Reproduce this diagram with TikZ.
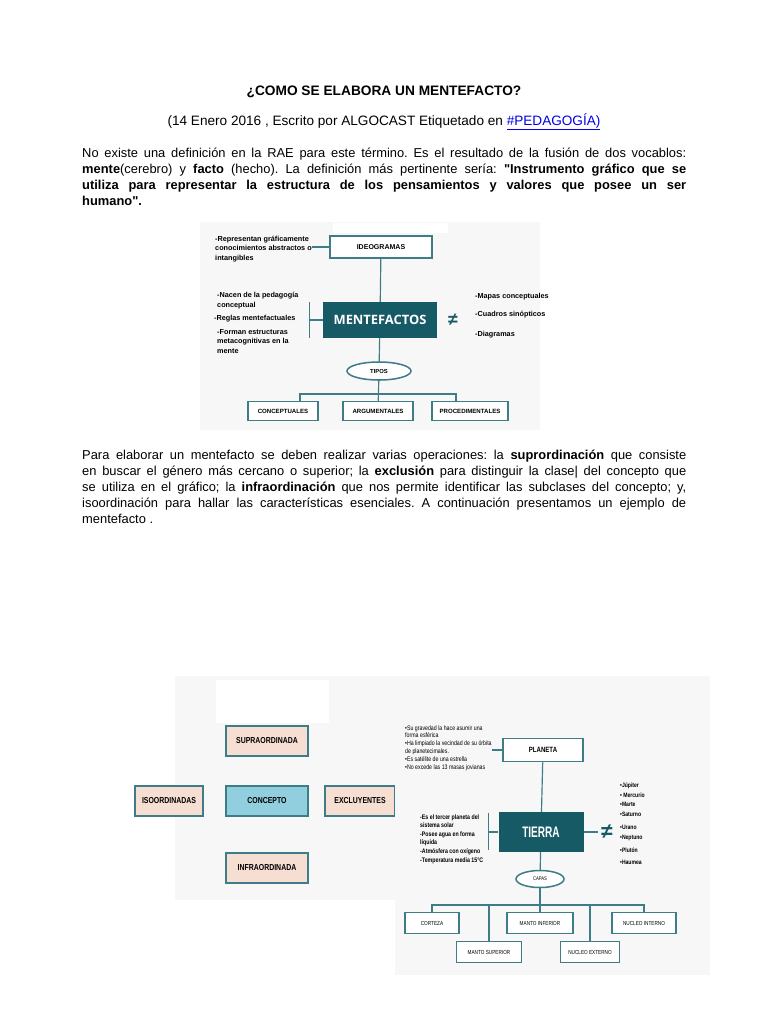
\documentclass[tikz,border=0pt]{standalone}
\usepackage{fontspec}
\setmainfont{Liberation Sans}
\newfontfamily\narrowfont[FakeStretch=0.8]{Liberation Sans}
\newfontfamily\tallfont[FakeStretch=0.66]{Liberation Sans}
\newfontfamily\headfont{Open Sans}
\usetikzlibrary{calc,shapes.geometric}

\definecolor{tealdark}{RGB}{22,90,102}
\definecolor{tealline}{RGB}{62,124,136}
\definecolor{peach}{RGB}{247,222,210}
\definecolor{skyfill}{RGB}{146,207,222}
\definecolor{linkblue}{RGB}{0,0,230}
\definecolor{panelgray}{RGB}{247,247,247}

\tikzset{
  every node/.style={inner sep=0pt},
  ideabox/.style={draw=tealline, line width=1.3pt, fill=white, font=\fontsize{5.2}{6}\selectfont\bfseries},
  mainbox/.style={fill=tealdark, text=white},
  typeoval/.style={ellipse, draw=tealline, line width=1.3pt, fill=white},
  conbox/.style={draw=tealline, line width=1pt, font=\narrowfont\fontsize{7.4}{8}\selectfont\bfseries},
  layerbox/.style={draw=tealline, line width=1.3pt, fill=white, font=\narrowfont\fontsize{5}{6}\selectfont},
  note/.style={align=left, anchor=base west, font=\fontsize{6.2}{7.7}\selectfont\bfseries},
  smallnote/.style={align=left, anchor=base west, font=\narrowfont\fontsize{5.6}{6.65}\selectfont},
  planet/.style={anchor=base west, font=\narrowfont\fontsize{5.4}{6}\selectfont\bfseries},
  notequal/.style={text=tealdark, font=\bfseries},
  link/.style={draw=tealline, line width=1pt},
  para/.style={anchor=base west, text width=18.12cm, align=justify, font=\fontsize{11}{13.66}\selectfont\frenchspacing},
}

\begin{document}
\begin{tikzpicture}[x=0.03cm, y=-0.03cm]
\useasboundingbox (0,0) rectangle (768,1024);
\fill[white] (0,0) rectangle (768,1024);

% heading and text
\node[anchor=base, font=\fontsize{11.7}{14}\selectfont\bfseries] (title) at (384,95) {¿COMO SE ELABORA UN MENTEFACTO?};
\node[anchor=base, font=\fontsize{11.6}{14}\selectfont] (date) at (384,125) {(14 Enero 2016 , Escrito por ALGOCAST Etiquetado en \textcolor{linkblue}{\underline{\#PEDAGOGÍA)}}};
\node[para] (intro) at (82,157) {No existe una definición en la RAE para este término. Es el resultado de la fusión de dos vocablos:\linebreak
\textbf{mente}(cerebro) y \textbf{facto} (hecho). La definición más pertinente sería: \textbf{\textquotedbl Instrumento gráfico que se\linebreak
utiliza para representar la estructura de los pensamientos y valores que posee un ser\linebreak
humano\textquotedbl.}};
\node[para] (steps) at (82,459) {Para elaborar un mentefacto se deben realizar varias operaciones: la \textbf{suprordinación} que consiste\linebreak
en buscar el género más cercano o superior; la \textbf{exclusión} para distinguir la clase| del concepto que\linebreak
se utiliza en el gráfico; la \textbf{infraordinación} que nos permite identificar las subclases del concepto; y,\linebreak
isoordinación para hallar las características esenciales. A continuación presentamos un ejemplo de\linebreak
mentefacto .};

% first mentefacto
\fill[panelgray] (200,222) rectangle (540,430);
\fill[white] (333,223) rectangle (448,233);
\node[ideabox, minimum width=3.06cm, minimum height=0.66cm, font=\fontsize{6}{7}\selectfont\bfseries] (ideo) at (381,247) {IDEOGRAMAS};
\node[mainbox, minimum width=3.42cm, minimum height=1.08cm, font=\headfont\fontsize{11}{12}\selectfont\bfseries] (mente) at (380,320) {MENTEFACTOS};
\node[typeoval, minimum width=1.92cm, minimum height=0.54cm, font=\fontsize{5}{6}\selectfont\bfseries] (tipos) at (379,371) {TIPOS};
\node[ideabox, minimum width=2.1cm, minimum height=0.57cm] (concep) at (283,411) {CONCEPTUALES};
\node[ideabox, minimum width=2.1cm, minimum height=0.57cm] (argum) at (378,411) {ARGUMENTALES};
\node[ideabox, minimum width=2.28cm, minimum height=0.57cm] (proced) at (470,411) {PROCEDIMENTALES};

\node[note] (repres) at (215,260) {-Representan gráficamente\\conocimientos abstractos o\\intangibles};
\node[note] (nacen) at (217,307) {-Nacen de la pedagogía\\conceptual};
\node[note] (reglas) at (214,320) {-Reglas mentefactuales};
\node[note] (forman) at (217,353) {-Forman estructuras\\metacognitivas en la\\mente};
\node[note] (mapas) at (475,298) {-Mapas conceptuales};
\node[note] (cuadros) at (475,316) {-Cuadros sinópticos};
\node[note] (diagr) at (475,336) {-Diagramas};
\node[notequal, font=\fontsize{15}{15}\selectfont\bfseries] (neqa) at (453,320) {≠};

\draw[link] (repres.east |- ideo.west) -- (ideo.west);
\draw[link] (ideo) -- (mente);
\coordinate (mbrace) at ($(mente.west)+(-13,0)$);
\draw[link] (mente.west) -- (mbrace);
\draw[link] ($(mbrace)+(0,-18)$) -- ($(mbrace)+(0,18)$);
\draw[link] (mente) -- (tipos);
\coordinate (tbar) at (379,394);
\draw[link] (tipos) -- (argum);
\draw[link] ($(concep.north)+(17,0)$) |- (tbar) -| ($(proced.north)+(-14,0)$);

% second mentefacto
\fill[panelgray] (175,676) rectangle (410,900);
\fill[white] (216,680) rectangle (329,723);
\node[conbox, fill=peach, minimum width=2.46cm, minimum height=0.9cm] (supra) at (267,741) {SUPRAORDINADA};
\node[conbox, fill=skyfill, minimum width=2.46cm, minimum height=0.9cm] (concepto) at (267,801) {CONCEPTO};
\node[conbox, fill=peach, minimum width=2.04cm, minimum height=0.9cm] (isoord) at (169,801) {ISOORDINADAS};
\node[conbox, fill=peach, minimum width=2.1cm, minimum height=0.9cm] (exclu) at (360,801) {EXCLUYENTES};
\node[conbox, fill=peach, minimum width=2.46cm, minimum height=0.9cm] (infra) at (267,868) {INFRAORDINADA};

% third mentefacto
\fill[panelgray] (395,676) rectangle (710,975);
\node[layerbox, minimum width=2.4cm, minimum height=0.69cm, font=\narrowfont\fontsize{6.5}{7}\selectfont\bfseries] (planeta) at (543,750) {PLANETA};
\node[mainbox, minimum width=2.55cm, minimum height=1.2cm, font=\tallfont\fontsize{13}{14}\selectfont\bfseries] (tierra) at (541,832) {TIERRA};
\node[typeoval, minimum width=1.44cm, minimum height=0.51cm, font=\narrowfont\fontsize{4.5}{5}\selectfont] (capas) at (540,879) {CAPAS};
\node[layerbox, minimum width=1.62cm, minimum height=0.63cm] (corteza) at (432,923) {CORTEZA};
\node[layerbox, minimum width=1.98cm, minimum height=0.63cm] (manInf) at (540,923) {MANTO INFERIOR};
\node[layerbox, minimum width=1.92cm, minimum height=0.63cm] (nucInt) at (644,923) {NUCLEO INTERNO};
\node[layerbox, minimum width=1.95cm, minimum height=0.63cm] (manSup) at (489,952) {MANTO SUPERIOR};
\node[layerbox, minimum width=1.77cm, minimum height=0.63cm] (nucExt) at (590,952) {NUCLEO EXTERNO};

\node[smallnote] (gravedad) at (405,769) {•Su gravedad la hace asumir una\\forma  esférica\\•Ha limpiado la vecindad de su órbita\\de planetecimales.\\•Es satélite de una estrella\\•No excede las 13 masas jovianas};
\node[smallnote, font=\narrowfont\fontsize{5.6}{7.34}\selectfont\bfseries] (tercer) at (420,862) {-Es el tercer planeta del\\sistema solar\\-Posee  agua en forma\\líquida\\-Atmósfera con oxígeno\\-Temperatura media 15°C};
\node[planet] (jup) at (620,787) {•Júpiter};
\node[planet] (merc) at (620,797) {• Mercurio};
\node[planet] (marte) at (620,806) {•Marte};
\node[planet] (sat) at (620,816) {•Saturno};
\node[planet] (urano) at (620,829) {•Urano};
\node[planet] (nep) at (620,839) {•Neptuno};
\node[planet] (pluton) at (620,852) {•Plutón};
\node[planet] (haumea) at (620,864) {•Haumea};
\node[notequal, font=\fontsize{18}{18}\selectfont\bfseries] (neqb) at (607,832) {≠};

\draw[link] (gravedad.east |- planeta.west) -- (planeta.west);
\draw[link] (planeta) -- (tierra);
\coordinate (tbrace) at ($(tierra.west)+(-10,0)$);
\draw[link] (tierra.west) -- (tbrace);
\draw[link] ($(tbrace)+(0,-19)$) -- ($(tbrace)+(0,18)$);
\draw[link] (tierra.east) -- ++(14,0);
\draw[link] (tierra) -- (capas);
\coordinate (cbar) at (540,905);
\draw[link] (capas) -- (manInf);
\draw[link] (corteza.north) |- (cbar) -| (nucInt.north);
\draw[link] (manSup.north) -- (manSup.north |- cbar);
\draw[link] (nucExt.north) -- (nucExt.north |- cbar);
\end{tikzpicture}
\end{document}
